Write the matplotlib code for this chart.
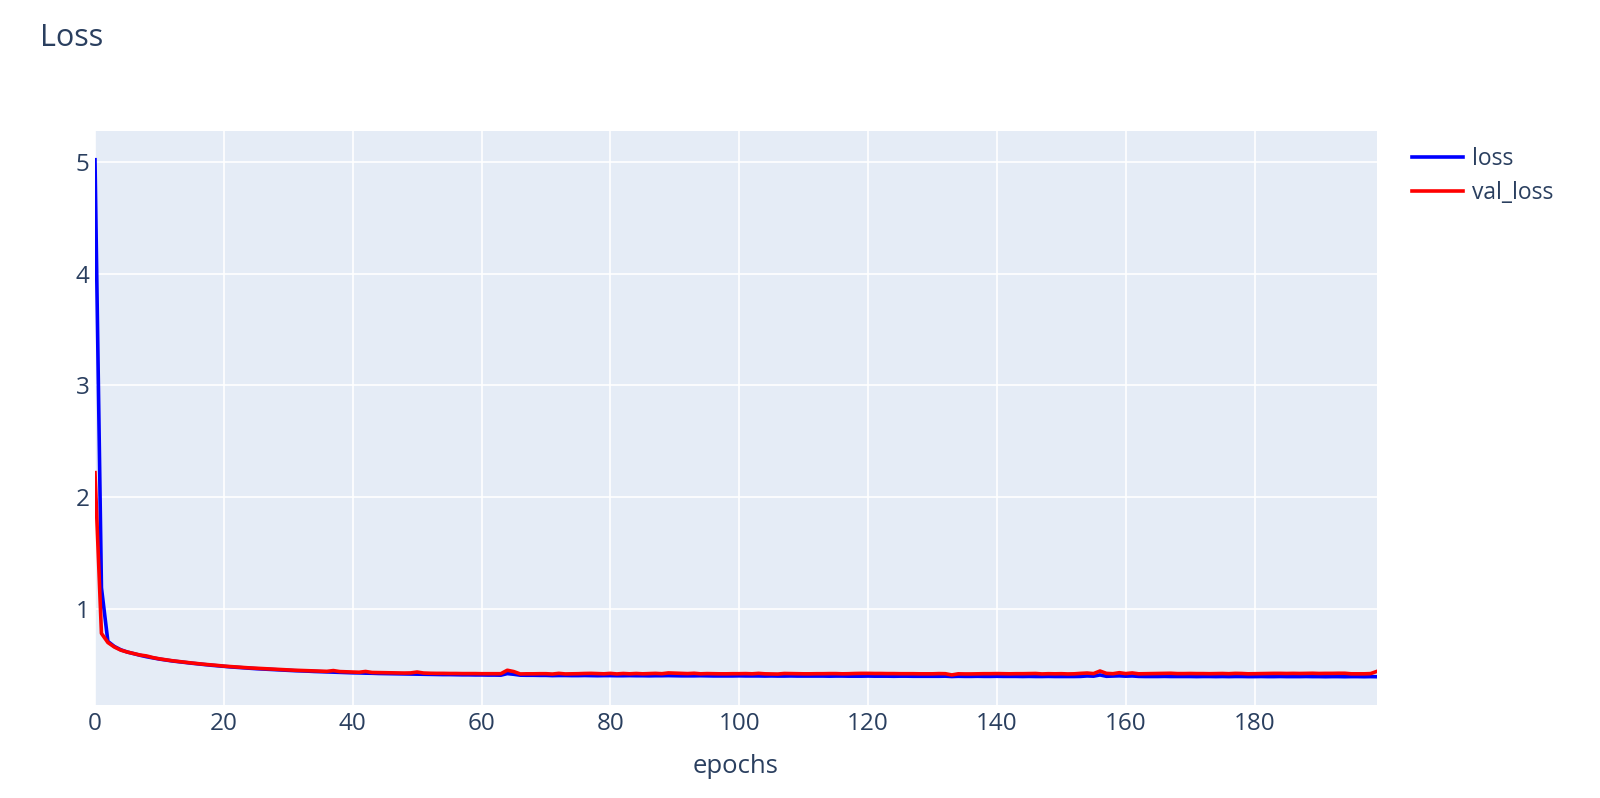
import matplotlib.pyplot as plt
import numpy as np

# training history
loss = [
    5.02, 1.19, 0.71, 0.665, 0.635, 0.615, 0.600, 0.586, 0.573, 0.562,
    0.552, 0.543, 0.535, 0.528, 0.521, 0.515, 0.509, 0.503, 0.497, 0.492,
    0.487, 0.482, 0.478, 0.474, 0.470, 0.466, 0.463, 0.460, 0.457, 0.454,
    0.451, 0.448, 0.446, 0.444, 0.441, 0.439, 0.437, 0.435, 0.433, 0.431,
    0.429, 0.428, 0.426, 0.425, 0.423, 0.422, 0.421, 0.420, 0.419, 0.418,
    0.417, 0.416, 0.415, 0.414, 0.413, 0.413, 0.412, 0.411, 0.411, 0.410,
    0.410, 0.409, 0.409, 0.408, 0.422, 0.416, 0.408, 0.407, 0.407, 0.406,
    0.406, 0.404, 0.405, 0.405, 0.404, 0.404, 0.405, 0.404, 0.403, 0.404,
    0.404, 0.403, 0.403, 0.404, 0.403, 0.403, 0.402, 0.403, 0.403, 0.404,
    0.403, 0.402, 0.402, 0.402, 0.403, 0.402, 0.401, 0.401, 0.401, 0.401,
    0.402, 0.401, 0.401, 0.401, 0.400, 0.401, 0.400, 0.400, 0.401, 0.400,
    0.400, 0.400, 0.400, 0.400, 0.399, 0.400, 0.400, 0.399, 0.399, 0.399,
    0.400, 0.399, 0.399, 0.399, 0.398, 0.399, 0.399, 0.398, 0.398, 0.398,
    0.398, 0.398, 0.399, 0.396, 0.398, 0.397, 0.397, 0.398, 0.397, 0.397,
    0.398, 0.397, 0.397, 0.397, 0.396, 0.397, 0.396, 0.396, 0.397, 0.396,
    0.396, 0.396, 0.396, 0.397, 0.401, 0.399, 0.410, 0.398, 0.400, 0.402,
    0.399, 0.401, 0.397, 0.396, 0.396, 0.396, 0.397, 0.396, 0.396, 0.396,
    0.396, 0.395, 0.396, 0.396, 0.395, 0.396, 0.395, 0.396, 0.396, 0.395,
    0.395, 0.396, 0.395, 0.395, 0.396, 0.395, 0.395, 0.395, 0.396, 0.395,
    0.395, 0.394, 0.395, 0.395, 0.394, 0.395, 0.395, 0.394, 0.395, 0.394,
]

val_loss = [
    2.22, 0.782, 0.700, 0.660, 0.632, 0.615, 0.602, 0.588, 0.580, 0.565,
    0.554, 0.545, 0.537, 0.530, 0.523, 0.517, 0.511, 0.505, 0.500, 0.495,
    0.489, 0.485, 0.481, 0.477, 0.473, 0.470, 0.467, 0.464, 0.461, 0.458,
    0.455, 0.452, 0.450, 0.448, 0.446, 0.444, 0.442, 0.449, 0.440, 0.438,
    0.436, 0.434, 0.441, 0.432, 0.431, 0.430, 0.429, 0.428, 0.427, 0.428,
    0.436, 0.427, 0.425, 0.424, 0.424, 0.423, 0.423, 0.422, 0.422, 0.422,
    0.421, 0.421, 0.421, 0.421, 0.452, 0.440, 0.419, 0.420, 0.420, 0.421,
    0.421, 0.418, 0.424, 0.419, 0.420, 0.421, 0.423, 0.424, 0.422, 0.420,
    0.424, 0.419, 0.423, 0.420, 0.423, 0.420, 0.422, 0.424, 0.421, 0.428,
    0.426, 0.424, 0.422, 0.425, 0.420, 0.422, 0.421, 0.420, 0.420, 0.421,
    0.421, 0.422, 0.420, 0.424, 0.420, 0.419, 0.418, 0.423, 0.422, 0.421,
    0.420, 0.420, 0.421, 0.421, 0.422, 0.422, 0.420, 0.421, 0.423, 0.424,
    0.424, 0.423, 0.423, 0.422, 0.422, 0.421, 0.421, 0.421, 0.420, 0.420,
    0.420, 0.422, 0.421, 0.410, 0.420, 0.419, 0.419, 0.420, 0.421, 0.421,
    0.422, 0.421, 0.420, 0.421, 0.421, 0.422, 0.423, 0.419, 0.421, 0.420,
    0.421, 0.419, 0.420, 0.424, 0.427, 0.422, 0.445, 0.424, 0.421, 0.430,
    0.422, 0.428, 0.420, 0.421, 0.422, 0.423, 0.424, 0.425, 0.422, 0.422,
    0.423, 0.422, 0.422, 0.421, 0.422, 0.423, 0.421, 0.424, 0.423, 0.420,
    0.421, 0.422, 0.423, 0.424, 0.424, 0.423, 0.424, 0.423, 0.424, 0.425,
    0.423, 0.424, 0.424, 0.425, 0.425, 0.420, 0.420, 0.420, 0.422, 0.442,
]

epochs = np.arange(len(loss))
x_ticks = [0, 20, 40, 60, 80, 100, 120, 140, 160, 180]
y_ticks = [1, 2, 3, 4, 5]

text_col = '#2a3f5f'
plt.rcParams['font.family'] = ['Open Sans', 'DejaVu Sans']

fig = plt.figure(figsize=(16, 7.98), dpi=100)
ax = fig.add_axes([95 / 1600, 1 - 705 / 798, (1377 - 95) / 1600, (705 - 131) / 798])
ax.set_facecolor('#E5ECF6')

ax.plot(epochs, loss, color='#0000ff', lw=2.6, label='loss')
ax.plot(epochs, val_loss, color='#ff0000', lw=2.6, label='val_loss')

ax.set_xlim(0, 199)
ax.set_ylim(0.141, 5.277)
ax.set_xticks(x_ticks)
ax.set_yticks(y_ticks)
ax.grid(True, color='white', lw=1.2)
ax.set_axisbelow(True)
for sp in ax.spines.values():
    sp.set_visible(False)
ax.tick_params(length=0, labelsize=17.5, labelcolor=text_col)
ax.tick_params(axis='x', pad=5)
ax.tick_params(axis='y', pad=4)

ax.set_xlabel('epochs', fontsize=18.5, color=text_col, labelpad=13)
fig.text(40 / 1600, 1 - 38 / 798, 'Loss', fontsize=22, color=text_col, va='center', ha='left')

leg = ax.legend(loc='upper left', bbox_to_anchor=(1401 / 1600, 1 - 136 / 798),
                bbox_transform=fig.transFigure, frameon=False, fontsize=16.5,
                handlelength=2.2, handletextpad=0.4, labelspacing=0.42, borderpad=0)
for t in leg.get_texts():
    t.set_color(text_col)

fig.savefig('out.png', dpi=100)
